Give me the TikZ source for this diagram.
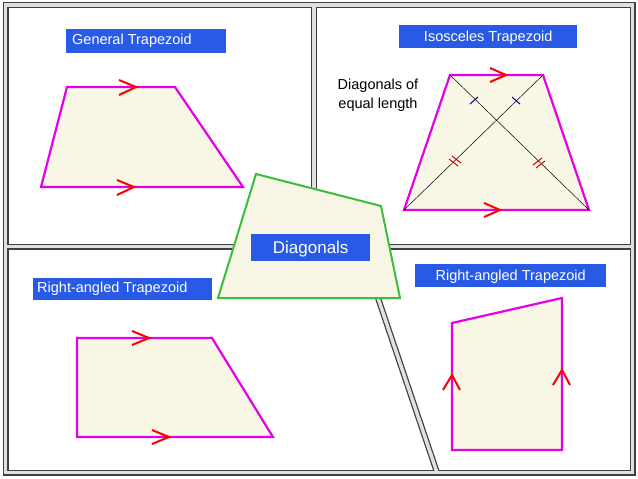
\documentclass[tikz,border=0pt]{standalone}
\usepackage{fontspec}
\setmainfont{Liberation Sans}
\begin{document}
\begin{tikzpicture}[x=1pt,y=-1pt]
\definecolor{mag}{RGB}{230,0,230}
\definecolor{cream}{RGB}{248,246,228}
\definecolor{lblue}{RGB}{40,90,230}
\definecolor{grn}{RGB}{60,190,60}
\tikzset{
 barA/.style={line width=6pt,color=black!75},
 barB/.style={line width=3.5pt,color=black!12},
 trap/.style={draw=mag,fill=cream,line width=2.2pt,line join=miter},
 chev/.style={draw=red,line width=2pt},
 lbl/.style={fill=lblue,text=white,font=\fontsize{14.5}{16}\selectfont,inner sep=0pt,anchor=north west,text depth=0pt},
}
\useasboundingbox (0,0) rectangle (638,479);
\fill[white] (0,0) rectangle (638,479);
% frame
\foreach \s in {barA,barB}{
 \draw[\s] (5.5,5) rectangle (632.5,472.5);
 \draw[\s] (314,5) -- (314,246.5);
 \draw[\s] (5.5,246.5) -- (632.5,246.5);
 \draw[\s] (378,298) -- (437,472.5);
}
% general
\draw[trap] (67,87) -- (175,87) -- (243,187) -- (41,187) -- cycle;
\draw[chev] (119,80) -- (136,87) -- (119,95);
\draw[chev] (117,180) -- (134,187) -- (117,195);
\node[lbl,minimum width=160pt,minimum height=24pt] (lg) at (66,29) {};
\node[anchor=west,text=white,font=\fontsize{14.5}{16}\selectfont,inner sep=0pt] (lgt) at (72,41) {General Trapezoid};
% isosceles
\coordinate (A) at (450,75); \coordinate (B) at (543,75);
\coordinate (C) at (589,210); \coordinate (D) at (404,210);
\draw[trap] (A) -- (B) -- (C) -- (D) -- cycle;
\draw[black,line width=0.5pt] (A) -- (C) (B) -- (D);
\draw[chev] (490,68) -- (506,75) -- (490,82);
\draw[chev] (484,203) -- (500,210) -- (484,217);
\draw[blue!70!black,line width=1pt] (470,104) -- (478,97) (512,97) -- (520,104);
\draw[red!80!black,line width=1pt] (449,159) -- (458,166) (452,156) -- (461,163) (533,165) -- (542,158) (536,168) -- (545,161);
\node[lbl,minimum width=178pt,minimum height=23pt] (li) at (399,25) {Isosceles Trapezoid};
\node[align=center,font=\fontsize{14.5}{19}\selectfont,inner sep=0pt] (dt) at (378,95) {Diagonals of\\equal length};
% right-angled left
\draw[trap] (77,338) -- (212,338) -- (273,437) -- (77,437) -- cycle;
\draw[chev] (132,331) -- (149,338) -- (132,345);
\draw[chev] (152,430) -- (169,437) -- (152,444);
\node[lbl,minimum width=179pt,minimum height=22pt] (lr1) at (33,278) {};
\node[anchor=west,text=white,font=\fontsize{14.5}{16}\selectfont,inner sep=0pt] (lr1t) at (37,289) {Right-angled Trapezoid};
% right-angled right
\draw[trap] (452,323) -- (562,298) -- (562,450) -- (452,450) -- cycle;
\draw[chev] (443,390) -- (452,375) -- (460,390);
\draw[chev] (553,385) -- (562,370) -- (570,385);
\node[lbl,minimum width=191pt,minimum height=23pt] (lr2) at (415,264) {Right-angled Trapezoid};
% diagonals
\draw[draw=grn,fill=cream,line width=2pt] (256,174) -- (381,206) -- (400,298) -- (218,298) -- cycle;
\node[lbl,minimum width=119pt,minimum height=27pt,font=\fontsize{17}{19}\selectfont] (ld) at (251,234) {Diagonals};
\end{tikzpicture}
\end{document}
